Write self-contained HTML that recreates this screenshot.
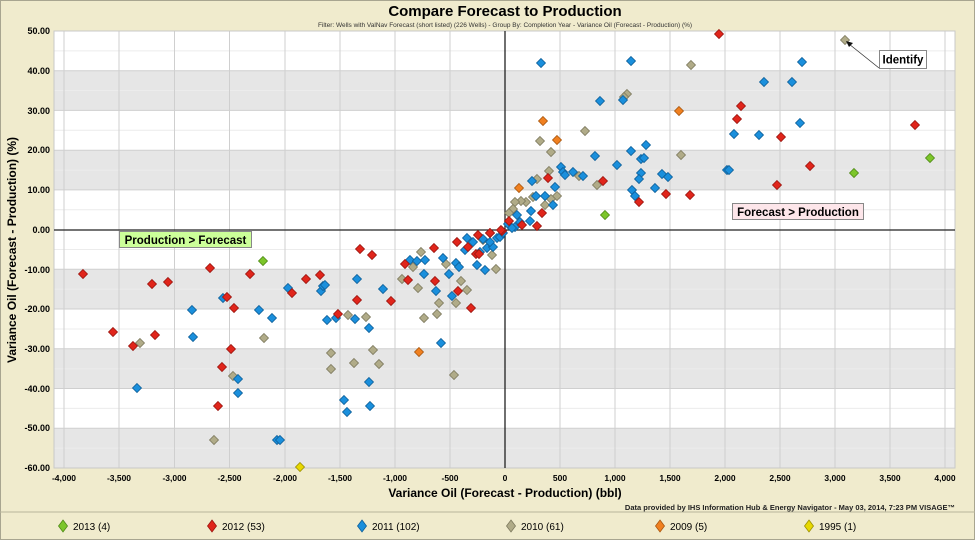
<!DOCTYPE html>
<html><head><meta charset="utf-8"><style>
html,body{margin:0;padding:0;background:#f0ebcd;}
svg{display:block;font-family:"Liberation Sans",sans-serif;}
</style></head><body>
<svg width="975" height="540" viewBox="0 0 975 540" xmlns="http://www.w3.org/2000/svg">
<defs>
<path id="dg" d="M0,-4.5L4.5,0L0,4.5L-4.5,0Z" fill="#7cc52a" stroke="#4f8a17" stroke-width="0.8"/>
<path id="dr" d="M0,-4.5L4.5,0L0,4.5L-4.5,0Z" fill="#e0251b" stroke="#9a1610" stroke-width="0.8"/>
<path id="db" d="M0,-4.5L4.5,0L0,4.5L-4.5,0Z" fill="#1a8fdc" stroke="#0e5f98" stroke-width="0.8"/>
<path id="dt" d="M0,-4.5L4.5,0L0,4.5L-4.5,0Z" fill="#b0ab88" stroke="#7d795e" stroke-width="0.8"/>
<path id="do" d="M0,-4.5L4.5,0L0,4.5L-4.5,0Z" fill="#f08020" stroke="#a8560f" stroke-width="0.8"/>
<path id="dy" d="M0,-4.5L4.5,0L0,4.5L-4.5,0Z" fill="#e8d800" stroke="#9a9000" stroke-width="0.8"/>
<path id="lg" d="M0,-6L4.5,0L0,6L-4.5,0Z" fill="#7cc52a" stroke="#4f8a17" stroke-width="0.8"/>
<path id="lr" d="M0,-6L4.5,0L0,6L-4.5,0Z" fill="#e0251b" stroke="#9a1610" stroke-width="0.8"/>
<path id="lb" d="M0,-6L4.5,0L0,6L-4.5,0Z" fill="#1a8fdc" stroke="#0e5f98" stroke-width="0.8"/>
<path id="lt" d="M0,-6L4.5,0L0,6L-4.5,0Z" fill="#b0ab88" stroke="#7d795e" stroke-width="0.8"/>
<path id="lo" d="M0,-6L4.5,0L0,6L-4.5,0Z" fill="#f08020" stroke="#a8560f" stroke-width="0.8"/>
<path id="ly" d="M0,-6L4.5,0L0,6L-4.5,0Z" fill="#e8d800" stroke="#9a9000" stroke-width="0.8"/>
</defs>
<rect x="0.5" y="0.5" width="974" height="539" fill="#f0ebcd" stroke="#a8a590"/>
<line x1="0" y1="512" x2="975" y2="512" stroke="#b8b59c"/>
<text x="505" y="16" text-anchor="middle" font-size="15" font-weight="bold" fill="#000">Compare Forecast to Production</text>
<text x="505" y="27" text-anchor="middle" font-size="6.5" fill="#333">Filter: Wells with ValNav Forecast (short listed) (226 Wells) - Group By: Completion Year - Variance Oil (Forecast - Production) (%)</text>
<rect x="54" y="31" width="901" height="437" fill="#ffffff"/>
<g fill="#e6e6e6">
<rect x="54" y="70.7" width="901" height="39.7"/>
<rect x="54" y="150.2" width="901" height="39.7"/>
<rect x="54" y="269.3" width="901" height="39.7"/>
<rect x="54" y="348.8" width="901" height="39.7"/>
<rect x="54" y="428.3" width="901" height="39.7"/>
</g>
<g stroke="#ececec" stroke-width="1">
<line x1="54" y1="50.9" x2="955" y2="50.9"/><line x1="54" y1="90.6" x2="955" y2="90.6"/><line x1="54" y1="130.3" x2="955" y2="130.3"/><line x1="54" y1="170.1" x2="955" y2="170.1"/><line x1="54" y1="209.8" x2="955" y2="209.8"/><line x1="54" y1="249.5" x2="955" y2="249.5"/><line x1="54" y1="289.2" x2="955" y2="289.2"/><line x1="54" y1="329" x2="955" y2="329"/><line x1="54" y1="368.7" x2="955" y2="368.7"/><line x1="54" y1="408.4" x2="955" y2="408.4"/><line x1="54" y1="448.1" x2="955" y2="448.1"/>
</g>
<g stroke="#cfcfcf" stroke-width="1">
<line x1="54" y1="70.7" x2="955" y2="70.7"/><line x1="54" y1="110.4" x2="955" y2="110.4"/><line x1="54" y1="150.2" x2="955" y2="150.2"/><line x1="54" y1="189.9" x2="955" y2="189.9"/><line x1="54" y1="269.3" x2="955" y2="269.3"/><line x1="54" y1="309" x2="955" y2="309"/><line x1="54" y1="348.8" x2="955" y2="348.8"/><line x1="54" y1="388.5" x2="955" y2="388.5"/><line x1="54" y1="428.3" x2="955" y2="428.3"/>
<line x1="64" y1="31" x2="64" y2="468"/><line x1="119" y1="31" x2="119" y2="468"/><line x1="174.5" y1="31" x2="174.5" y2="468"/><line x1="229.5" y1="31" x2="229.5" y2="468"/><line x1="285" y1="31" x2="285" y2="468"/><line x1="340" y1="31" x2="340" y2="468"/><line x1="395" y1="31" x2="395" y2="468"/><line x1="450" y1="31" x2="450" y2="468"/>
<line x1="560" y1="31" x2="560" y2="468"/><line x1="615" y1="31" x2="615" y2="468"/><line x1="670" y1="31" x2="670" y2="468"/><line x1="725" y1="31" x2="725" y2="468"/><line x1="780" y1="31" x2="780" y2="468"/><line x1="835" y1="31" x2="835" y2="468"/><line x1="890" y1="31" x2="890" y2="468"/><line x1="945" y1="31" x2="945" y2="468"/>
</g>
<rect x="54" y="31" width="901" height="437" fill="none" stroke="#c8c8c8"/>
<line x1="54" y1="230" x2="955" y2="230" stroke="#222" stroke-width="1.3"/>
<line x1="505" y1="31" x2="505" y2="468" stroke="#222" stroke-width="1.3"/>
<g font-size="9" font-weight="bold" text-anchor="end" fill="#000">
<text x="50" y="34">50.00</text><text x="50" y="74">40.00</text><text x="50" y="114">30.00</text><text x="50" y="153">20.00</text><text x="50" y="193">10.00</text><text x="50" y="233">0.00</text><text x="50" y="273">-10.00</text><text x="50" y="312">-20.00</text><text x="50" y="352">-30.00</text><text x="50" y="392">-40.00</text><text x="50" y="431">-50.00</text><text x="50" y="471">-60.00</text>
</g>
<g font-size="8.5" font-weight="bold" text-anchor="middle" fill="#000">
<text x="64" y="481">-4,000</text><text x="119" y="481">-3,500</text><text x="174.5" y="481">-3,000</text><text x="229.5" y="481">-2,500</text><text x="285" y="481">-2,000</text><text x="340" y="481">-1,500</text><text x="395" y="481">-1,000</text><text x="450" y="481">-500</text><text x="505" y="481">0</text><text x="560" y="481">500</text><text x="615" y="481">1,000</text><text x="670" y="481">1,500</text><text x="725" y="481">2,000</text><text x="780" y="481">2,500</text><text x="835" y="481">3,000</text><text x="890" y="481">3,500</text><text x="945" y="481">4,000</text>
</g>
<text x="505" y="497" text-anchor="middle" font-size="12" font-weight="bold">Variance Oil (Forecast - Production) (bbl)</text>
<text x="16" y="250" text-anchor="middle" font-size="12" font-weight="bold" transform="rotate(-90 16 250)">Variance Oil (Forecast - Production) (%)</text>
<text x="955" y="510" text-anchor="end" font-size="7.5" font-weight="bold" fill="#222">Data provided by IHS Information Hub &amp; Energy Navigator - May 03, 2014, 7:23 PM  VISAGE™</text>
<g>
<use href="#dt" x="421" y="252"/><use href="#dt" x="413" y="267"/><use href="#dt" x="402" y="279"/><use href="#dt" x="418" y="288"/><use href="#dt" x="446" y="264"/><use href="#dt" x="461" y="281"/><use href="#dt" x="467" y="290"/><use href="#dt" x="439" y="303"/><use href="#dt" x="456" y="303"/><use href="#dt" x="437" y="314"/><use href="#dt" x="424" y="318"/><use href="#dt" x="348" y="315"/><use href="#dt" x="366" y="317"/><use href="#dt" x="373" y="350"/><use href="#dt" x="379" y="364"/><use href="#dt" x="354" y="363"/><use href="#dt" x="331" y="353"/><use href="#dt" x="331" y="369"/><use href="#dt" x="454" y="375"/><use href="#dt" x="492" y="255"/><use href="#dt" x="496" y="269"/><use href="#dt" x="483" y="240"/>
<use href="#dt" x="140" y="343"/><use href="#dt" x="233" y="376"/><use href="#dt" x="264" y="338"/><use href="#dt" x="214" y="440"/>
<use href="#dt" x="691" y="65"/><use href="#dt" x="627" y="94"/><use href="#dt" x="585" y="131"/><use href="#dt" x="540" y="141"/><use href="#dt" x="551" y="152"/><use href="#dt" x="681" y="155"/><use href="#dt" x="549" y="171"/><use href="#dt" x="537" y="179"/><use href="#dt" x="579" y="176"/><use href="#dt" x="597" y="185"/><use href="#dt" x="557" y="196"/><use href="#dt" x="551" y="199"/><use href="#dt" x="545" y="205"/><use href="#dt" x="533" y="197"/><use href="#dt" x="526" y="202"/><use href="#dt" x="521" y="201"/><use href="#dt" x="515" y="202"/><use href="#dt" x="513" y="209"/><use href="#dt" x="509" y="213"/><use href="#dt" x="845" y="40"/><use href="#dt" x="624" y="97"/>
<use href="#db" x="137" y="388"/><use href="#db" x="192" y="310"/><use href="#db" x="193" y="337"/><use href="#db" x="223" y="298"/><use href="#db" x="238" y="379"/><use href="#db" x="238" y="393"/><use href="#db" x="259" y="310"/><use href="#db" x="272" y="318"/><use href="#db" x="288" y="288"/><use href="#db" x="277" y="440"/>
<use href="#db" x="321" y="291"/><use href="#db" x="323" y="286"/><use href="#db" x="325" y="285"/><use href="#db" x="357" y="279"/><use href="#db" x="383" y="289"/><use href="#db" x="327" y="320"/><use href="#db" x="336" y="318"/><use href="#db" x="355" y="319"/><use href="#db" x="369" y="328"/><use href="#db" x="369" y="382"/><use href="#db" x="344" y="400"/><use href="#db" x="347" y="412"/><use href="#db" x="370" y="406"/><use href="#db" x="410" y="260"/><use href="#db" x="417" y="261"/><use href="#db" x="425" y="260"/><use href="#db" x="424" y="274"/><use href="#db" x="436" y="291"/><use href="#db" x="443" y="258"/><use href="#db" x="449" y="274"/><use href="#db" x="456" y="263"/><use href="#db" x="459" y="267"/><use href="#db" x="452" y="296"/><use href="#db" x="441" y="343"/><use href="#db" x="467" y="238"/><use href="#db" x="473" y="242"/><use href="#db" x="483" y="239"/><use href="#db" x="477" y="265"/><use href="#db" x="485" y="270"/><use href="#db" x="487" y="248"/><use href="#db" x="493" y="247"/><use href="#db" x="497" y="238"/><use href="#db" x="500" y="237"/><use href="#db" x="280" y="440"/><use href="#db" x="465" y="250"/><use href="#db" x="480" y="252"/><use href="#db" x="490" y="242"/><use href="#db" x="503" y="233"/>
<use href="#db" x="541" y="63"/><use href="#db" x="631" y="61"/><use href="#db" x="600" y="101"/><use href="#db" x="623" y="100"/><use href="#db" x="646" y="145"/><use href="#db" x="631" y="151"/><use href="#db" x="595" y="156"/><use href="#db" x="617" y="165"/><use href="#db" x="641" y="159"/><use href="#db" x="644" y="158"/><use href="#db" x="561" y="167"/><use href="#db" x="563" y="172"/><use href="#db" x="565" y="175"/><use href="#db" x="573" y="172"/><use href="#db" x="583" y="176"/><use href="#db" x="532" y="181"/><use href="#db" x="555" y="187"/><use href="#db" x="641" y="173"/><use href="#db" x="639" y="179"/><use href="#db" x="662" y="174"/><use href="#db" x="668" y="177"/><use href="#db" x="655" y="188"/><use href="#db" x="632" y="190"/><use href="#db" x="635" y="196"/><use href="#db" x="545" y="196"/><use href="#db" x="536" y="196"/><use href="#db" x="553" y="205"/><use href="#db" x="531" y="211"/><use href="#db" x="517" y="215"/><use href="#db" x="530" y="221"/><use href="#db" x="515" y="227"/><use href="#db" x="727" y="170"/><use href="#db" x="508" y="224"/><use href="#db" x="512" y="228"/><use href="#db" x="520" y="222"/>
<use href="#db" x="802" y="62"/><use href="#db" x="764" y="82"/><use href="#db" x="792" y="82"/><use href="#db" x="800" y="123"/><use href="#db" x="734" y="134"/><use href="#db" x="759" y="135"/><use href="#db" x="729" y="170"/>
<use href="#dr" x="83" y="274"/><use href="#dr" x="113" y="332"/><use href="#dr" x="133" y="346"/><use href="#dr" x="152" y="284"/><use href="#dr" x="168" y="282"/><use href="#dr" x="155" y="335"/><use href="#dr" x="210" y="268"/><use href="#dr" x="227" y="297"/><use href="#dr" x="234" y="308"/><use href="#dr" x="231" y="349"/><use href="#dr" x="222" y="367"/><use href="#dr" x="218" y="406"/><use href="#dr" x="250" y="274"/><use href="#dr" x="292" y="293"/>
<use href="#dr" x="360" y="249"/><use href="#dr" x="372" y="255"/><use href="#dr" x="306" y="279"/><use href="#dr" x="320" y="275"/><use href="#dr" x="357" y="300"/><use href="#dr" x="391" y="301"/><use href="#dr" x="338" y="314"/><use href="#dr" x="405" y="264"/><use href="#dr" x="408" y="280"/><use href="#dr" x="434" y="248"/><use href="#dr" x="435" y="281"/><use href="#dr" x="458" y="291"/><use href="#dr" x="471" y="308"/><use href="#dr" x="457" y="242"/><use href="#dr" x="468" y="247"/><use href="#dr" x="478" y="235"/><use href="#dr" x="490" y="233"/><use href="#dr" x="476" y="254"/><use href="#dr" x="479" y="254"/><use href="#dr" x="502" y="231"/>
<use href="#dr" x="719" y="34"/><use href="#dr" x="548" y="178"/><use href="#dr" x="603" y="181"/><use href="#dr" x="542" y="213"/><use href="#dr" x="537" y="226"/><use href="#dr" x="522" y="225"/><use href="#dr" x="509" y="221"/><use href="#dr" x="639" y="202"/><use href="#dr" x="666" y="194"/><use href="#dr" x="690" y="195"/><use href="#dr" x="490" y="233"/><use href="#dr" x="501" y="230"/>
<use href="#dr" x="741" y="106"/><use href="#dr" x="737" y="119"/><use href="#dr" x="781" y="137"/><use href="#dr" x="810" y="166"/><use href="#dr" x="777" y="185"/><use href="#dr" x="915" y="125"/>
<use href="#do" x="419" y="352"/><use href="#do" x="543" y="121"/><use href="#do" x="557" y="140"/><use href="#do" x="519" y="188"/><use href="#do" x="679" y="111"/>
<use href="#dg" x="263" y="261"/><use href="#dg" x="605" y="215"/><use href="#dg" x="854" y="173"/><use href="#dg" x="930" y="158"/>
<use href="#dy" x="300" y="467"/>
</g>
<rect x="119.5" y="231.5" width="132" height="16" fill="#ccff99" stroke="#888"/>
<text x="185.5" y="244" text-anchor="middle" font-size="11.5" font-weight="bold">Production &gt; Forecast</text>
<rect x="732.5" y="203.5" width="131" height="16" fill="#fde6ea" stroke="#888"/>
<text x="798" y="216" text-anchor="middle" font-size="11.5" font-weight="bold">Forecast &gt; Production</text>
<line x1="879" y1="68" x2="849" y2="44" stroke="#333" stroke-width="0.8"/>
<path d="M846,41 L853,43 L849,47 Z" fill="#111"/>
<rect x="879.5" y="50.5" width="47" height="18" fill="#fff" stroke="#888"/>
<text x="903" y="63.5" text-anchor="middle" font-size="11.5" font-weight="bold">Identify</text>
<g font-size="10" fill="#000">
<use href="#lg" x="63" y="526"/><text x="73" y="530">2013 (4)</text>
<use href="#lr" x="212" y="526"/><text x="222" y="530">2012 (53)</text>
<use href="#lb" x="362" y="526"/><text x="372" y="530">2011 (102)</text>
<use href="#lt" x="511" y="526"/><text x="521" y="530">2010 (61)</text>
<use href="#lo" x="660" y="526"/><text x="670" y="530">2009 (5)</text>
<use href="#ly" x="809" y="526"/><text x="819" y="530">1995 (1)</text>
</g>
</svg>
</body></html>
